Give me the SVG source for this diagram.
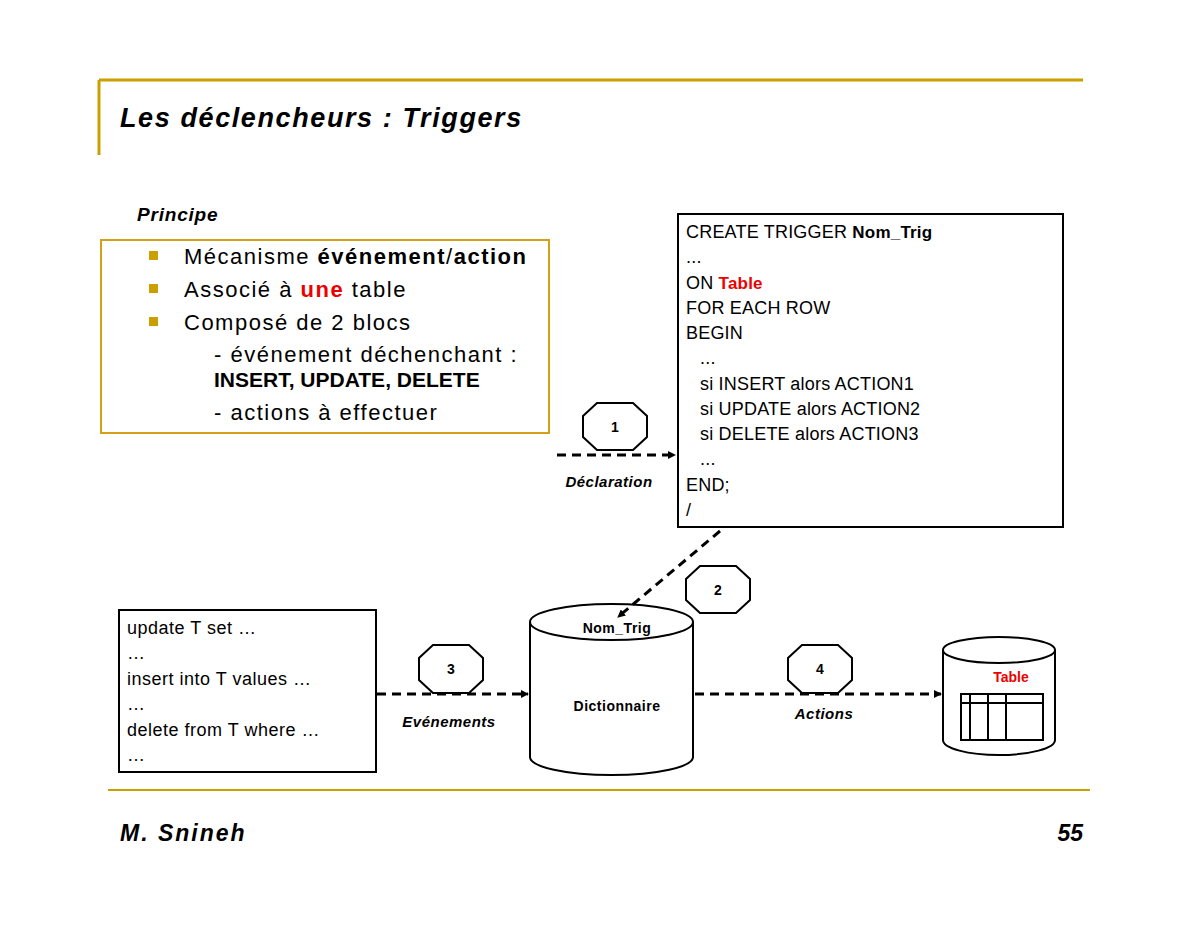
<svg xmlns="http://www.w3.org/2000/svg" width="1200" height="927" viewBox="0 0 1200 927">
<style>
.t{font-family:"Liberation Sans",Arial,sans-serif}
.p{font-family:"Liberation Sans",Arial,sans-serif;font-size:22px;letter-spacing:1.5px}
.c{font-family:"Liberation Sans",Arial,sans-serif;font-size:18px;letter-spacing:0.2px}
.e{font-family:"Liberation Sans",Arial,sans-serif;font-size:18px;letter-spacing:0.5px}
.oct{fill:#fff;stroke:#000;stroke-width:2}
.dash{stroke:#000;stroke-width:3;stroke-dasharray:9,6;fill:none}
.lbl{font-family:"Liberation Sans",Arial,sans-serif;font-size:15px;font-style:italic;font-weight:bold;letter-spacing:0.5px}
.num{font-family:"Liberation Sans",Arial,sans-serif;font-size:14px;font-weight:bold;text-anchor:middle}
</style>
<defs><marker id="ah" markerWidth="8" markerHeight="8" refX="7" refY="4" orient="auto" markerUnits="userSpaceOnUse"><path d="M0,0L8,4L0,8z" fill="#000"/></marker></defs>
<rect width="1200" height="927" fill="#fff"/>
<g id="header">
<line x1="99" y1="80" x2="1083" y2="80" stroke="#c9a000" stroke-width="3"/>
<line x1="99" y1="80" x2="99" y2="155" stroke="#c9a000" stroke-width="3"/>
<text x="120" y="127" class="t" font-size="27" font-weight="bold" font-style="italic" letter-spacing="1.6">Les déclencheurs : Triggers</text>
<line x1="108" y1="790" x2="1090" y2="790" stroke="#c9a000" stroke-width="2"/>
<text x="120" y="841" class="t" font-size="23" font-weight="bold" font-style="italic" letter-spacing="2">M. Snineh</text>
<text x="1083" y="841" class="t" font-size="23" font-weight="bold" font-style="italic" text-anchor="end">55</text>
</g>
<g id="principe">
<text x="137" y="221" class="t" font-size="19" font-weight="bold" font-style="italic" letter-spacing="0.8">Principe</text>
<rect x="101" y="240" width="448" height="193" fill="#fff" stroke="#d4a017" stroke-width="2"/>
<rect x="149" y="251" width="9" height="9" fill="#c9a000"/>
<rect x="149" y="284" width="9" height="9" fill="#c9a000"/>
<rect x="149" y="317" width="9" height="9" fill="#c9a000"/>
<text x="184" y="264" class="p" letter-spacing="0.5">Mécanisme <tspan font-weight="bold">événement</tspan>/<tspan font-weight="bold">action</tspan></text>
<text x="184" y="297" class="p">Associé à <tspan font-weight="bold" fill="#e00">une</tspan> table</text>
<text x="184" y="330" class="p" letter-spacing="0.3">Composé de 2 blocs</text>
<text x="214" y="362" class="p">- événement  déchenchant :</text>
<text x="214" y="387" class="t" font-size="21" font-weight="bold">INSERT, UPDATE, DELETE</text>
<text x="214" y="420" class="p">- actions à effectuer</text>
</g>
<g id="code">
<rect x="678" y="214" width="385" height="313" fill="#fff" stroke="#000" stroke-width="2"/>
<text class="c" x="686" y="238">CREATE TRIGGER <tspan font-weight="bold" font-size="17">Nom_Trig</tspan></text>
<text class="c" x="686" y="263">...</text>
<text class="c" x="686" y="289">ON <tspan font-weight="bold" fill="#e00" font-size="17">Table</tspan></text>
<text class="c" x="686" y="314">FOR EACH ROW</text>
<text class="c" x="686" y="339">BEGIN</text>
<text class="c" x="700" y="364">...</text>
<text class="c" x="700" y="390">si INSERT alors ACTION1</text>
<text class="c" x="700" y="415">si UPDATE alors ACTION2</text>
<text class="c" x="700" y="440">si DELETE alors ACTION3</text>
<text class="c" x="700" y="465">...</text>
<text class="c" x="686" y="491">END;</text>
<text class="c" x="686" y="516">/</text>
</g>
<g id="events">
<rect x="119" y="610" width="257" height="162" fill="#fff" stroke="#000" stroke-width="2"/>
<text class="e" x="127" y="634">update T set …</text>
<text class="e" x="127" y="659">…</text>
<text class="e" x="127" y="685">insert into T values …</text>
<text class="e" x="127" y="710">…</text>
<text class="e" x="127" y="736">delete from T where …</text>
<text class="e" x="127" y="761">…</text>
</g>
<g id="dictionnaire">
<path d="M530,622 L530,757 A81,18 0 0 0 693,757 L693,622" fill="#fff" stroke="#000" stroke-width="2"/>
<ellipse cx="611.5" cy="622" rx="81.5" ry="18" fill="#fff" stroke="#000" stroke-width="2"/>
<text x="617" y="633" class="t" font-size="14" font-weight="bold" text-anchor="middle" letter-spacing="0.5">Nom_Trig</text>
<text x="617" y="711" class="t" font-size="14" font-weight="bold" text-anchor="middle" letter-spacing="0.5">Dictionnaire</text>
</g>
<g id="table">
<path d="M943,650 L943,740 A56,15 0 0 0 1055,740 L1055,650" fill="#fff" stroke="#000" stroke-width="2"/>
<ellipse cx="999" cy="650" rx="56" ry="13" fill="#fff" stroke="#000" stroke-width="2"/>
<text x="1011" y="682" class="t" font-size="14" font-weight="bold" fill="#e00" text-anchor="middle">Table</text>
<g fill="none" stroke="#000" stroke-width="2">
<rect x="961" y="694" width="82" height="46"/>
<line x1="961" y1="703" x2="1043" y2="703"/>
<line x1="970" y1="694" x2="970" y2="740"/>
<line x1="988" y1="694" x2="988" y2="740"/>
<line x1="1006" y1="694" x2="1006" y2="740"/>
</g>
</g>
<g id="connectors">
<line class="dash" x1="557" y1="455" x2="675" y2="455" marker-end="url(#ah)"/>
<line class="dash" x1="720" y1="531" x2="618" y2="617" marker-end="url(#ah)"/>
<line class="dash" x1="377" y1="694" x2="528" y2="694" marker-end="url(#ah)"/>
<line class="dash" x1="695" y1="694" x2="941" y2="694" marker-end="url(#ah)"/>
<text x="609" y="487" class="lbl" text-anchor="middle">Déclaration</text>
<text x="449" y="727" class="lbl" text-anchor="middle">Evénements</text>
<text x="824" y="719" class="lbl" text-anchor="middle">Actions</text>
</g>
<g id="badge1"><path class="oct" d="M597,403 L633,403 L647,416 L647,437 L633,450 L597,450 L583,437 L583,416z"/><text class="num" x="615" y="432">1</text></g>
<g id="badge2"><path class="oct" d="M700,566 L736,566 L750,579 L750,600 L736,613 L700,613 L686,600 L686,579z"/><text class="num" x="718" y="595">2</text></g>
<g id="badge3"><path class="oct" d="M433,645 L469,645 L483,658 L483,680 L469,693 L433,693 L419,680 L419,658z"/><text class="num" x="451" y="674">3</text></g>
<g id="badge4"><path class="oct" d="M802,645 L838,645 L852,658 L852,680 L838,693 L802,693 L788,680 L788,658z"/><text class="num" x="820" y="674">4</text></g>
</svg>
